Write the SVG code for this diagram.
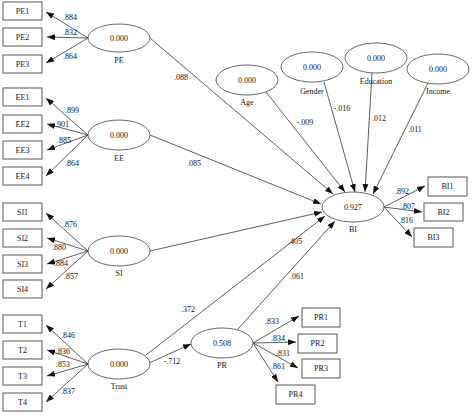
<svg xmlns="http://www.w3.org/2000/svg" width="474" height="416" viewBox="0 0 474 416">
<defs>
<marker id="ah" markerUnits="userSpaceOnUse" markerWidth="8" markerHeight="6" refX="8" refY="3" orient="auto">
<path d="M0,0 L8,3 L0,6 Z" fill="#111"/>
</marker>
</defs>
<style>
text{font-family:"Liberation Serif","Times New Roman",serif;font-size:8px;fill:#111;text-anchor:middle}
.box{fill:#fff;stroke:#555;stroke-width:1}
.ell{fill:#fff;stroke:#555;stroke-width:0.9}
#edges line,#edges path{stroke:#333;stroke-width:0.8;fill:none;marker-end:url(#ah)}
</style>
<rect width="474" height="416" fill="#fff"/>
<g id="edges">
<line x1="88" y1="38" x2="46" y2="12"/>
<line x1="88" y1="38" x2="47" y2="37"/>
<line x1="88" y1="38" x2="46" y2="63"/>
<line x1="88" y1="135" x2="46" y2="98"/>
<line x1="88" y1="135" x2="47" y2="124"/>
<line x1="88" y1="135" x2="47" y2="150"/>
<line x1="88" y1="135" x2="46" y2="176"/>
<line x1="88" y1="251" x2="46" y2="213"/>
<line x1="88" y1="251" x2="47" y2="238"/>
<line x1="88" y1="251" x2="47" y2="264"/>
<line x1="88" y1="251" x2="46" y2="289"/>
<line x1="88" y1="364" x2="46" y2="325"/>
<line x1="88" y1="364" x2="47" y2="350"/>
<line x1="88" y1="364" x2="47" y2="376"/>
<line x1="88" y1="364" x2="46" y2="402"/>
<line x1="150" y1="38" x2="333" y2="194"/>
<line x1="150" y1="135" x2="321" y2="204"/>
<line x1="150" y1="251" x2="322" y2="212"/>
<line x1="146" y1="355" x2="325" y2="216"/>
<line x1="238" y1="329" x2="335" y2="221"/>
<line x1="149" y1="363" x2="191" y2="344"/>
<line x1="266" y1="92" x2="345" y2="192"/>
<line x1="324" y1="82" x2="355" y2="192"/>
<line x1="372" y1="73" x2="365" y2="192"/>
<line x1="428" y1="83" x2="373" y2="194"/>
<line x1="384" y1="207" x2="425" y2="186"/>
<line x1="384" y1="207" x2="422" y2="212"/>
<line x1="384" y1="207" x2="412" y2="237"/>
<line x1="253" y1="343" x2="299" y2="316"/>
<line x1="253" y1="343" x2="296" y2="342"/>
<line x1="253" y1="343" x2="298" y2="368"/>
<line x1="253" y1="343" x2="278" y2="382"/>
</g>
<g id="edge-labels">
<text x="70" y="20">.884</text>
<text x="70" y="35">.832</text>
<text x="70" y="59">.864</text>
<text x="72" y="113">.899</text>
<text x="62" y="127">.901</text>
<text x="64" y="143">.885</text>
<text x="72" y="166">.864</text>
<text x="70" y="227">.876</text>
<text x="59" y="250">.880</text>
<text x="61" y="266">.884</text>
<text x="71" y="279">.857</text>
<text x="68" y="338">.846</text>
<text x="63" y="354">.836</text>
<text x="63" y="367">.853</text>
<text x="68" y="394">.837</text>
<text x="181" y="80">.088</text>
<text x="194" y="166">.085</text>
<text x="295" y="244">.405</text>
<text x="188" y="312">.372</text>
<text x="172" y="364">-.712</text>
<text x="297" y="279">.061</text>
<text x="305" y="125">-.009</text>
<text x="342" y="111">-.016</text>
<text x="379" y="121">.012</text>
<text x="415" y="132">.011</text>
<text x="402" y="194">.892</text>
<text x="408" y="209">.807</text>
<text x="406" y="223">.816</text>
<text x="272" y="324">.833</text>
<text x="278" y="341">.834</text>
<text x="283" y="356">.831</text>
<text x="278" y="369">.861</text>
</g>
<g id="PE"><ellipse class="ell" cx="119" cy="38" rx="31" ry="14"/><text x="119" y="41">0.000</text><text x="119" y="63">PE</text></g>
<g id="EE"><ellipse class="ell" cx="119" cy="135" rx="31" ry="15"/><text x="119" y="138">0.000</text><text x="119" y="161">EE</text></g>
<g id="SI"><ellipse class="ell" cx="119" cy="251" rx="31" ry="15"/><text x="119" y="254">0.000</text><text x="119" y="276">SI</text></g>
<g id="Trust"><ellipse class="ell" cx="119" cy="364" rx="31" ry="15"/><text x="119" y="367">0.000</text><text x="119" y="389">Trust</text></g>
<g id="PR"><ellipse class="ell" cx="222" cy="343" rx="31" ry="15"/><text x="222" y="346">0.508</text><text x="222" y="368">PR</text></g>
<g id="BI"><ellipse class="ell" cx="353" cy="207" rx="31" ry="15"/><text x="353" y="210">0.927</text><text x="353" y="232">BI</text></g>
<g id="Age"><ellipse class="ell" cx="247" cy="80" rx="31" ry="15"/><text x="247" y="83">0.000</text><text x="247" y="105">Age</text></g>
<g id="Gender"><ellipse class="ell" cx="312" cy="67" rx="31" ry="15"/><text x="312" y="70">0.000</text><text x="312" y="94">Gender</text></g>
<g id="Education"><ellipse class="ell" cx="376" cy="58" rx="31" ry="15"/><text x="376" y="61">0.000</text><text x="376" y="84">Education</text></g>
<g id="Income"><ellipse class="ell" cx="438" cy="69" rx="31" ry="15"/><text x="438" y="72">0.000</text><text x="438" y="94">Income</text></g>
<g id="PE1"><rect class="box" x="3" y="2" width="39" height="18"/><text x="22.5" y="14">PE1</text></g>
<g id="PE2"><rect class="box" x="3" y="28" width="39" height="18"/><text x="22.5" y="40">PE2</text></g>
<g id="PE3"><rect class="box" x="3" y="55" width="39" height="18"/><text x="22.5" y="67">PE3</text></g>
<g id="EE1"><rect class="box" x="3" y="88" width="39" height="18"/><text x="22.5" y="100">EE1</text></g>
<g id="EE2"><rect class="box" x="3" y="115" width="39" height="18"/><text x="22.5" y="127">EE2</text></g>
<g id="EE3"><rect class="box" x="3" y="141" width="39" height="18"/><text x="22.5" y="153">EE3</text></g>
<g id="EE4"><rect class="box" x="3" y="167" width="39" height="18"/><text x="22.5" y="179">EE4</text></g>
<g id="SI1"><rect class="box" x="3" y="203" width="39" height="18"/><text x="22.5" y="215">SI1</text></g>
<g id="SI2"><rect class="box" x="3" y="229" width="39" height="18"/><text x="22.5" y="241">SI2</text></g>
<g id="SI3"><rect class="box" x="3" y="255" width="39" height="18"/><text x="22.5" y="267">SI3</text></g>
<g id="SI4"><rect class="box" x="3" y="280" width="39" height="18"/><text x="22.5" y="292">SI4</text></g>
<g id="T1"><rect class="box" x="3" y="315" width="39" height="18"/><text x="22.5" y="327">T1</text></g>
<g id="T2"><rect class="box" x="3" y="341" width="39" height="18"/><text x="22.5" y="353">T2</text></g>
<g id="T3"><rect class="box" x="3" y="367" width="39" height="18"/><text x="22.5" y="379">T3</text></g>
<g id="T4"><rect class="box" x="3" y="393" width="39" height="18"/><text x="22.5" y="405">T4</text></g>
<g id="BI1"><rect class="box" x="428" y="177" width="39" height="19"/><text x="447.5" y="189">BI1</text></g>
<g id="BI2"><rect class="box" x="424" y="203" width="39" height="18"/><text x="443.5" y="215">BI2</text></g>
<g id="BI3"><rect class="box" x="414" y="228" width="39" height="19"/><text x="433.5" y="240">BI3</text></g>
<g id="PR1"><rect class="box" x="302" y="308" width="38" height="19"/><text x="321" y="320">PR1</text></g>
<g id="PR2"><rect class="box" x="298" y="334" width="39" height="19"/><text x="317.5" y="346">PR2</text></g>
<g id="PR3"><rect class="box" x="302" y="359" width="38" height="19"/><text x="321" y="371">PR3</text></g>
<g id="PR4"><rect class="box" x="276" y="385" width="39" height="19"/><text x="295.5" y="397">PR4</text></g>
</svg>
